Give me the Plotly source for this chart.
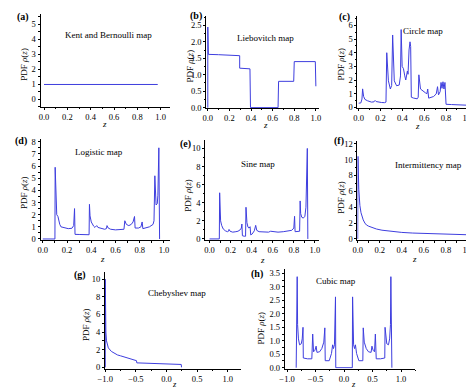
import plotly.graph_objects as go

W, H = 474, 390
LINE = "rgb(62,62,222)"
FONT = "Liberation Serif"

# ---------------- data ----------------
# (a) Kent and Bernoulli map
kb_z = [0.0, 0.975]
kb_p = [1.0, 1.0]

# (b) Liebovitch map
lb_z = [0.0, 0.0, 0.005, 0.1, 0.2, 0.29, 0.295, 0.295, 0.39, 0.395, 0.65, 0.655, 0.795, 0.8, 0.995, 1.0]
lb_p = [0.0, 2.45, 1.62, 1.61, 1.6, 1.58, 1.58, 1.2, 1.18, 0.0, 0.0, 0.8, 0.8, 1.4, 1.4, 0.65]

# (c) Circle map
cm_z = [0.0, 0.02, 0.03, 0.036, 0.045, 0.057, 0.08, 0.117, 0.14, 0.15, 0.16, 0.177, 0.21, 0.237, 0.25,
        0.257, 0.265, 0.272, 0.29, 0.302, 0.311, 0.318, 0.326, 0.347, 0.371, 0.383, 0.389, 0.398,
        0.41, 0.422, 0.431, 0.446, 0.452, 0.461, 0.47, 0.476, 0.482, 0.5, 0.536, 0.545, 0.551,
        0.566, 0.59, 0.611, 0.625, 0.632, 0.641, 0.66, 0.686, 0.71, 0.722, 0.731, 0.746, 0.754,
        0.763, 0.772, 0.781, 0.79, 0.8, 0.85, 0.95, 1.0]
cm_p = [0.3, 0.32, 0.6, 1.35, 0.8, 0.58, 0.48, 0.38, 0.4, 0.5, 0.42, 0.38, 0.35, 0.34, 0.38,
        4.0, 2.6, 1.94, 1.34, 1.6, 5.3, 2.6, 1.94, 1.58, 1.63, 2.3, 5.7, 3.0,
        2.83, 2.3, 2.0, 2.66, 2.42, 4.2, 4.8, 4.46, 0.74, 0.68, 0.62, 0.74, 2.38,
        1.34, 1.15, 1.06, 1.0, 1.34, 0.67, 0.7, 0.79, 0.98, 1.51, 0.91, 1.15, 1.82,
        1.39, 1.87, 1.34, 1.82, 0.22, 0.2, 0.17, 0.15]

# (d) Logistic map
lg_z = [0.0, 0.1, 0.102, 0.11, 0.115, 0.125, 0.13, 0.14, 0.15, 0.18, 0.21, 0.24, 0.255, 0.262, 0.266,
        0.3, 0.35, 0.382, 0.385, 0.39, 0.4, 0.41, 0.42, 0.43, 0.445, 0.455, 0.47, 0.49, 0.51, 0.525,
        0.53, 0.54, 0.56, 0.6, 0.65, 0.67, 0.677, 0.69, 0.71, 0.73, 0.745, 0.757, 0.762, 0.79, 0.81,
        0.82, 0.826, 0.85, 0.88, 0.91, 0.918, 0.925, 0.93, 0.935, 0.945, 0.95, 0.958, 0.964]
lg_p = [0.0, 0.0, 5.9, 2.3, 2.0, 1.85, 1.6, 1.2, 1.0, 0.9, 0.85, 0.88, 1.1, 2.5, 0.38,
        0.37, 0.36, 0.35, 2.85, 1.9, 1.4, 1.2, 1.05, 0.95, 1.1, 0.95, 0.9, 0.85, 0.8, 0.85,
        1.1, 0.9, 0.8, 0.75, 0.75, 0.8, 1.5, 1.2, 1.1, 1.2, 1.4, 1.85, 0.9, 0.9, 1.0,
        1.4, 0.85, 0.9, 1.0, 1.2, 1.5, 5.2, 3.0, 2.8, 2.9, 3.6, 7.5, 0.0]

# (e) Sine map
sn_z = [0.0, 0.093, 0.096, 0.1, 0.105, 0.115, 0.13, 0.15, 0.17, 0.18, 0.185, 0.195, 0.22, 0.25, 0.27,
        0.29, 0.302, 0.307, 0.312, 0.33, 0.342, 0.346, 0.355, 0.365, 0.375, 0.385, 0.391, 0.405, 0.425,
        0.438, 0.448, 0.47, 0.52, 0.56, 0.58, 0.6, 0.65, 0.7, 0.75, 0.78, 0.8, 0.807, 0.812, 0.84,
        0.855, 0.86, 0.865, 0.875, 0.89, 0.905, 0.915, 0.928, 0.933]
sn_p = [0.0, 0.0, 5.1, 2.5, 2.0, 1.5, 1.1, 0.9, 0.8, 0.85, 1.05, 0.85, 0.75, 0.8, 0.85,
        1.0, 1.2, 1.65, 0.35, 0.3, 0.3, 3.5, 1.8, 1.3, 1.2, 1.35, 0.45, 0.55, 0.9,
        1.5, 0.95, 0.8, 0.75, 0.75, 0.85, 0.8, 0.75, 0.8, 0.85, 0.95, 1.2, 2.5, 0.8, 0.8,
        0.85, 4.2, 2.8, 2.4, 2.3, 2.5, 3.5, 10.0, 0.0]

# (f) Intermittency map
im_z = [0.0, 0.002, 0.004, 0.007, 0.01, 0.015, 0.02, 0.03, 0.04, 0.05, 0.065, 0.08, 0.1, 0.13, 0.17,
        0.22, 0.3, 0.4, 0.5, 0.6, 0.7, 0.8, 0.9, 0.99, 1.0]
im_p = [0.0, 10.4, 9.6, 7.8, 6.2, 5.0, 4.2, 3.3, 2.8, 2.4, 2.0, 1.75, 1.6, 1.45, 1.25,
        1.1, 0.95, 0.82, 0.74, 0.69, 0.65, 0.6, 0.56, 0.53, 0.7]

# (g) Chebyshev map
ch_z = [-1.0, -1.0, -0.995, -0.99, -0.98, -0.97, -0.95, -0.9, -0.85, -0.8, -0.75, -0.7, -0.6, -0.55,
        -0.5, -0.49, -0.485, -0.4, -0.2, 0.0, 0.01, 0.015, 0.1, 0.24, 0.245]
ch_p = [0.0, 10.0, 6.0, 4.0, 3.0, 2.6, 2.2, 1.8, 1.55, 1.4, 1.3, 1.2, 1.0, 0.85,
        0.78, 0.75, 0.5, 0.48, 0.45, 0.42, 0.42, 0.36, 0.34, 0.32, 0.0]

# (h) Cubic map
cu_z = [-0.84, -0.822, -0.815, -0.8, -0.78, -0.75, -0.734, -0.72, -0.715, -0.64, -0.565, -0.55, -0.535,
        -0.51, -0.49, -0.475, -0.43, -0.39, -0.355, -0.337, -0.33, -0.26, -0.22, -0.2, -0.185, -0.168,
        -0.15, -0.145, 0.145, 0.15, 0.168, 0.185, 0.2, 0.22, 0.26, 0.33, 0.337, 0.355, 0.39, 0.43,
        0.475, 0.49, 0.51, 0.535, 0.55, 0.565, 0.64, 0.715, 0.72, 0.734, 0.75, 0.78, 0.8, 0.815,
        0.822, 0.84]
cu_p = [0.0, 3.38, 1.6, 1.07, 0.85, 0.89, 1.07, 1.5, 0.36, 0.33, 0.33, 1.25, 0.59,
        0.65, 0.8, 0.57, 0.59, 0.71, 0.95, 1.48, 0.26, 0.26, 0.53, 0.85, 0.71, 0.85,
        2.63, 0.0, 0.0, 2.63, 0.85, 0.71, 0.85, 0.53, 0.26, 0.26, 1.48, 0.95, 0.71, 0.59,
        0.57, 0.8, 0.65, 0.59, 1.25, 0.33, 0.33, 0.36, 1.5, 1.07, 0.89, 0.85, 1.07, 1.6,
        3.38, 0.0]

panel_letters = ["(a)", "(b)", "(c)", "(d)", "(e)", "(f)", "(g)", "(h)"]
map_names = ["Kent and Bernoulli map", "Liebovitch map", "Circle map", "Logistic map",
             "Sine map", "Intermittency map", "Chebyshev map", "Cubic map"]

series = [(kb_z, kb_p), (lb_z, lb_p), (cm_z, cm_p), (lg_z, lg_p),
          (sn_z, sn_p), (im_z, im_p), (ch_z, ch_p), (cu_z, cu_p)]

# ---------------- layout geometry (pixels) ----------------
# (left, right, top, bottom), xrange, yrange, x dtick, y dtick, y format
panels = [
    ((26, 158, 3, 98), [-0.03, 1.08], [-0.5, 5.7], 0.2, 1, ""),
    ((195, 310, 5, 99), [-0.014, 1.03], [-0.01, 2.79], 0.2, 0.5, ".1f"),
    ((349, 465, 5, 99), [-0.012, 1.03], [-0.05, 6.7], 0.2, 1, ""),
    ((26, 158, 131, 234), [-0.019, 1.05], [-0.1, 8.2], 0.2, 1, ""),
    ((194, 310, 132, 234), [-0.04, 1.04], [-0.14, 10.9], 0.2, 2, ""),
    ((349, 465, 133, 234), [-0.003, 1.03], [-0.16, 12.3], 0.2, 2, ""),
    ((91.7, 230, 266, 365), [-1.005, 1.21], [-0.14, 10.87], 0.5, 2, ""),
    ((275, 408, 263, 365), [-1.04, 1.25], [-0.03, 3.68], 0.5, 0.5, ".1f"),
]
letter_pos = [(8, 6), (184, 5), (336, 6), (6, 133), (174, 136), (330, 133), (66, 270), (247, 268)]
name_pos = [(95, 24), (255, 28), (416, 20), (86, 144), (248, 156), (421, 157), (165, 288), (327, 276)]
ytitle_pos = [(9, 54), (178, 56), (332, 54), (9, 185), (176, 188), (332, 190), (73, 320), (251, 324)]
xtitle_pos = [(91, 115), (255, 116), (410, 117), (89, 253), (252, 254), (407, 253), (163, 381), (345, 381)]

fig = go.Figure()
layout = dict(width=W, height=H, margin=dict(l=0, r=0, t=0, b=0),
              paper_bgcolor="white", plot_bgcolor="white", showlegend=False,
              font=dict(family=FONT, size=9, color="black"))

tickfont = dict(family=FONT, size=8.5, color="black")
for i, ((l, r, t, b), xr, yr, xdt, ydt, yfmt) in enumerate(panels):
    n = "" if i == 0 else str(i + 1)
    z, p = series[i]
    fig.add_trace(go.Scatter(x=z, y=p, mode="lines", line=dict(color=LINE, width=1),
                             xaxis="x" + n, yaxis="y" + n, hoverinfo="skip"))
    x0 = -1.0 if xdt == 0.5 else 0.0
    layout["xaxis" + n] = dict(domain=[l / W, r / W], range=xr, anchor="y" + n,
                               showline=True, linecolor="black", linewidth=1, showgrid=False,
                               zeroline=False, ticks="outside", ticklen=2, tickwidth=1,
                               tickcolor="black", tick0=x0, dtick=xdt, tickformat=".1f",
                               tickfont=tickfont,
                               minor=dict(ticks="outside", ticklen=1.5, tickcolor="black",
                                          dtick=xdt / 2, tick0=x0, showgrid=False))
    layout["yaxis" + n] = dict(domain=[1 - b / H, 1 - t / H], range=yr, anchor="x" + n,
                               showline=True, linecolor="black", linewidth=1, showgrid=False,
                               zeroline=False, ticks="outside", ticklen=2, tickwidth=1,
                               tickcolor="black", tick0=0, dtick=ydt, tickformat=yfmt,
                               tickfont=tickfont,
                               minor=dict(ticks="outside", ticklen=1.5, tickcolor="black",
                                          dtick=ydt / 2, tick0=0, showgrid=False))

ann = []
def add_text(px, py, text, size=9, angle=0):
    ann.append(dict(x=px / W, y=1 - py / H, xref="paper", yref="paper", text=text,
                    showarrow=False, textangle=angle, xanchor="center", yanchor="middle",
                    font=dict(family=FONT, size=size, color="black")))

for i in range(8):
    add_text(*letter_pos[i], "<b>" + panel_letters[i] + "</b>", size=10)
    add_text(*name_pos[i], map_names[i], size=9)
    add_text(*ytitle_pos[i], "PDF <i>ρ</i>(<i>z</i>)", size=9, angle=-90)
    add_text(*xtitle_pos[i], "<i>z</i>", size=8.5 if i >= 6 else 9)

layout["annotations"] = ann
fig.update_layout(**layout)
fig.write_html("out.html")
